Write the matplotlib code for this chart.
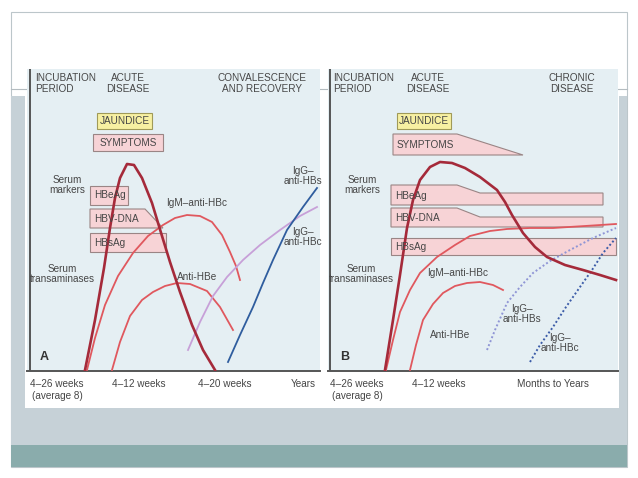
import matplotlib.pyplot as plt
from matplotlib.patches import Rectangle, Polygon

plt.rcParams['font.family'] = ['Liberation Sans', 'DejaVu Sans']

# ---- data: time (arbitrary units along x) vs level (arbitrary units) ----
# panel A: acute hepatitis B with recovery
altA_x = [55, 65, 74, 80, 85, 90, 97, 104, 112, 122, 132, 140, 150, 162, 173, 185]
altA_y = [1, 51, 103, 143, 173, 193, 207, 206, 193, 168, 135, 109, 79, 46, 21, 1]
igmA_x = [57, 65, 75, 88, 103, 118, 133, 145, 157, 170, 182, 192, 200, 206, 210]
igmA_y = [1, 33, 66, 95, 118, 135, 146, 153, 156, 155, 149, 136, 119, 105, 91]
antiHBeA_x = [82, 90, 100, 112, 123, 135, 147, 160, 177, 190, 203]
antiHBeA_y = [1, 29, 55, 71, 79, 85, 88, 87, 80, 64, 41]
iggHBcA_x = [158, 170, 183, 197, 213, 230, 250, 270, 287]
iggHBcA_y = [21, 49, 75, 94, 111, 126, 141, 155, 164]
iggHBsA_x = [198, 210, 223, 233, 243, 257, 273, 287]
iggHBsA_y = [9, 36, 64, 88, 111, 141, 164, 183]

# panel B: chronic hepatitis B
altB_x = [55, 63, 70, 77, 83, 90, 100, 110, 122, 135, 150, 167, 175, 182, 193, 205, 217, 235, 253, 270, 286]
altB_y = [1, 51, 96, 143, 171, 191, 204, 209, 208, 203, 194, 181, 169, 156, 138, 124, 114, 106, 101, 96, 91]
igmB_x = [56, 63, 70, 80, 90, 107, 125, 140, 160, 177, 200, 223, 255, 286]
igmB_y = [1, 31, 59, 81, 98, 114, 126, 135, 140, 142, 143, 143, 145, 147]
antiHBeB_x = [80, 86, 93, 103, 113, 125, 137, 150, 163, 173]
antiHBeB_y = [1, 26, 51, 67, 78, 85, 88, 89, 86, 81]
iggHBsB_x = [157, 165, 177, 190, 203, 220, 240, 263, 286]
iggHBsB_y = [21, 41, 68, 84, 98, 110, 121, 133, 143]
iggHBcB_x = [200, 210, 223, 236, 250, 262, 273, 286]
iggHBcB_y = [9, 26, 44, 64, 84, 101, 118, 133]

ticksA = [27, 109, 195, 273]
tick_labelsA = ['4–26 weeks\n(average 8)', '4–12 weeks', '4–20 weeks', 'Years']
ticksB = [27, 109, 223]
tick_labelsB = ['4–26 weeks\n(average 8)', '4–12 weeks', 'Months to Years']

DARK = '#a52a3a'
RED = '#e0585e'
PINK = '#f7d3d6'
EDGE = '#9a8585'
TXT = '#464646'
PANEL = '#e5eff3'
FS = 7.2

W, H = 638, 478
fig = plt.figure(figsize=(W / 100, H / 100), dpi=100)
fig.patch.set_facecolor('white')

# slide background
bg = fig.add_axes([0, 0, 1, 1])
bg.set_xlim(0, W)
bg.set_ylim(H, 0)
bg.axis('off')
bg.add_patch(Rectangle((11, 12), 616, 455, fc='white', ec='#bcc6ca', lw=0.8))
bg.plot([11, 627], [89, 89], color='#b4bcc0', lw=0.8)
bg.add_patch(Rectangle((11, 96), 616, 349, fc='#c6d1d7', ec='none'))
bg.add_patch(Rectangle((11, 445), 616, 22, fc='#8aacac', ec='none'))
bg.add_patch(Rectangle((25, 69), 594, 339, fc='white', ec='none'))


def panel(left, width, x0):
    ax = fig.add_axes([left / W, 1 - 371 / H, width / W, 302 / H])
    ax.set_facecolor(PANEL)
    ax.set_xlim(x0, x0 + width)
    ax.set_ylim(0, 302)
    for s in ['top', 'right', 'left']:
        ax.spines[s].set_visible(False)
    ax.spines['bottom'].set_color('#555555')
    ax.spines['bottom'].set_linewidth(1.4)
    ax.axvline(0, color='#555555', lw=1.4)
    ax.set_yticks([])
    ax.tick_params(axis='x', length=0, pad=6, labelsize=FS, labelcolor=TXT)
    return ax


def shape(ax, pts, fc=PINK, ec=EDGE):
    ax.add_patch(Polygon(pts, closed=True, fc=fc, ec=ec, lw=0.8, zorder=2))


def header(ax, x, txt, ha='center'):
    ax.text(x, 298, txt, ha=ha, va='top', fontsize=7.2, color=TXT, linespacing=1.1)


def label(ax, x, y, txt, ha='center'):
    ax.text(x, y, txt, ha=ha, va='center', fontsize=FS, color=TXT,
            linespacing=1.0, zorder=5)


# ---------------- panel A ----------------
axA = panel(27, 293, -3)
axA.set_xticks(ticksA)
axA.set_xticklabels(tick_labelsA)
header(axA, 5, 'INCUBATION\nPERIOD', ha='left')
header(axA, 98, 'ACUTE\nDISEASE')
header(axA, 232, 'CONVALESCENCE\nAND RECOVERY')

shape(axA, [(67, 242), (122, 242), (122, 258), (67, 258)], fc='#f7f0a2', ec='#a09a58')
label(axA, 94.5, 250, 'JAUNDICE')
shape(axA, [(63, 220), (133, 220), (133, 237), (63, 237)])
label(axA, 98, 228.5, 'SYMPTOMS')
shape(axA, [(60, 166), (98, 166), (98, 185), (60, 185)])
label(axA, 64, 175.5, 'HBeAg', ha='left')
shape(axA, [(60, 143), (60, 162), (115, 162), (133, 143)])
label(axA, 64, 152.5, 'HBV-DNA', ha='left')
shape(axA, [(60, 119), (136, 119), (136, 138), (60, 138)])
label(axA, 64, 128.5, 'HBsAg', ha='left')

axA.plot(igmA_x, igmA_y, color=RED, lw=1.3, zorder=3)
axA.plot(antiHBeA_x, antiHBeA_y, color=RED, lw=1.3, zorder=3)
axA.plot(iggHBcA_x, iggHBcA_y, color='#c7a0d8', lw=1.3, zorder=3)
axA.plot(iggHBsA_x, iggHBsA_y, color='#2f5d9e', lw=1.3, zorder=3)
axA.plot(altA_x, altA_y, color=DARK, lw=1.9, zorder=3)

label(axA, 37, 186, 'Serum\nmarkers')
label(axA, 32, 97, 'Serum\ntransaminases')
label(axA, 167, 168, 'IgM–anti-HBc')
label(axA, 167, 94, 'Anti-HBe')
label(axA, 273, 195, 'IgG–\nanti-HBs')
label(axA, 273, 134, 'IgG–\nanti-HBc')
axA.text(10, 14, 'A', fontsize=9, fontweight='bold', color='#333333', va='center')

# ---------------- panel B ----------------
axB = panel(328, 290, -2)
axB.set_xticks(ticksB)
axB.set_xticklabels(tick_labelsB)
header(axB, 3, 'INCUBATION\nPERIOD', ha='left')
header(axB, 98, 'ACUTE\nDISEASE')
header(axB, 242, 'CHRONIC\nDISEASE')

shape(axB, [(67, 242), (121, 242), (121, 258), (67, 258)], fc='#f7f0a2', ec='#a09a58')
label(axB, 94, 250, 'JAUNDICE')
shape(axB, [(63, 216), (63, 237), (127, 237), (193, 216)])
label(axB, 67, 226.5, 'SYMPTOMS', ha='left')
shape(axB, [(61, 166), (61, 186), (127, 186), (150, 178), (273, 178), (273, 166)])
label(axB, 65, 175, 'HBeAg', ha='left')
shape(axB, [(61, 144), (61, 163), (127, 163), (150, 154), (273, 154), (273, 144)])
label(axB, 65, 153, 'HBV-DNA', ha='left')
shape(axB, [(61, 116), (286, 116), (286, 133), (61, 133)])
label(axB, 65, 124.5, 'HBsAg', ha='left')

axB.plot(igmB_x, igmB_y, color=RED, lw=1.3, zorder=3)
axB.plot(antiHBeB_x, antiHBeB_y, color=RED, lw=1.3, zorder=3)
axB.plot(iggHBsB_x, iggHBsB_y, color='#8f95d5', lw=1.4, ls=(0, (1, 1.2)), zorder=3)
axB.plot(iggHBcB_x, iggHBcB_y, color='#3c5ca8', lw=1.4, ls=(0, (1, 1.2)), zorder=3)
axB.plot(altB_x, altB_y, color=DARK, lw=1.9, zorder=3)

label(axB, 32, 186, 'Serum\nmarkers')
label(axB, 31, 97, 'Serum\ntransaminases')
label(axB, 128, 98, 'IgM–anti-HBc')
label(axB, 120, 36, 'Anti-HBe')
label(axB, 192, 57, 'IgG–\nanti-HBs')
label(axB, 230, 28, 'IgG–\nanti-HBc')
axB.text(10, 14, 'B', fontsize=9, fontweight='bold', color='#333333', va='center')

fig.savefig('out.png', dpi=100)
